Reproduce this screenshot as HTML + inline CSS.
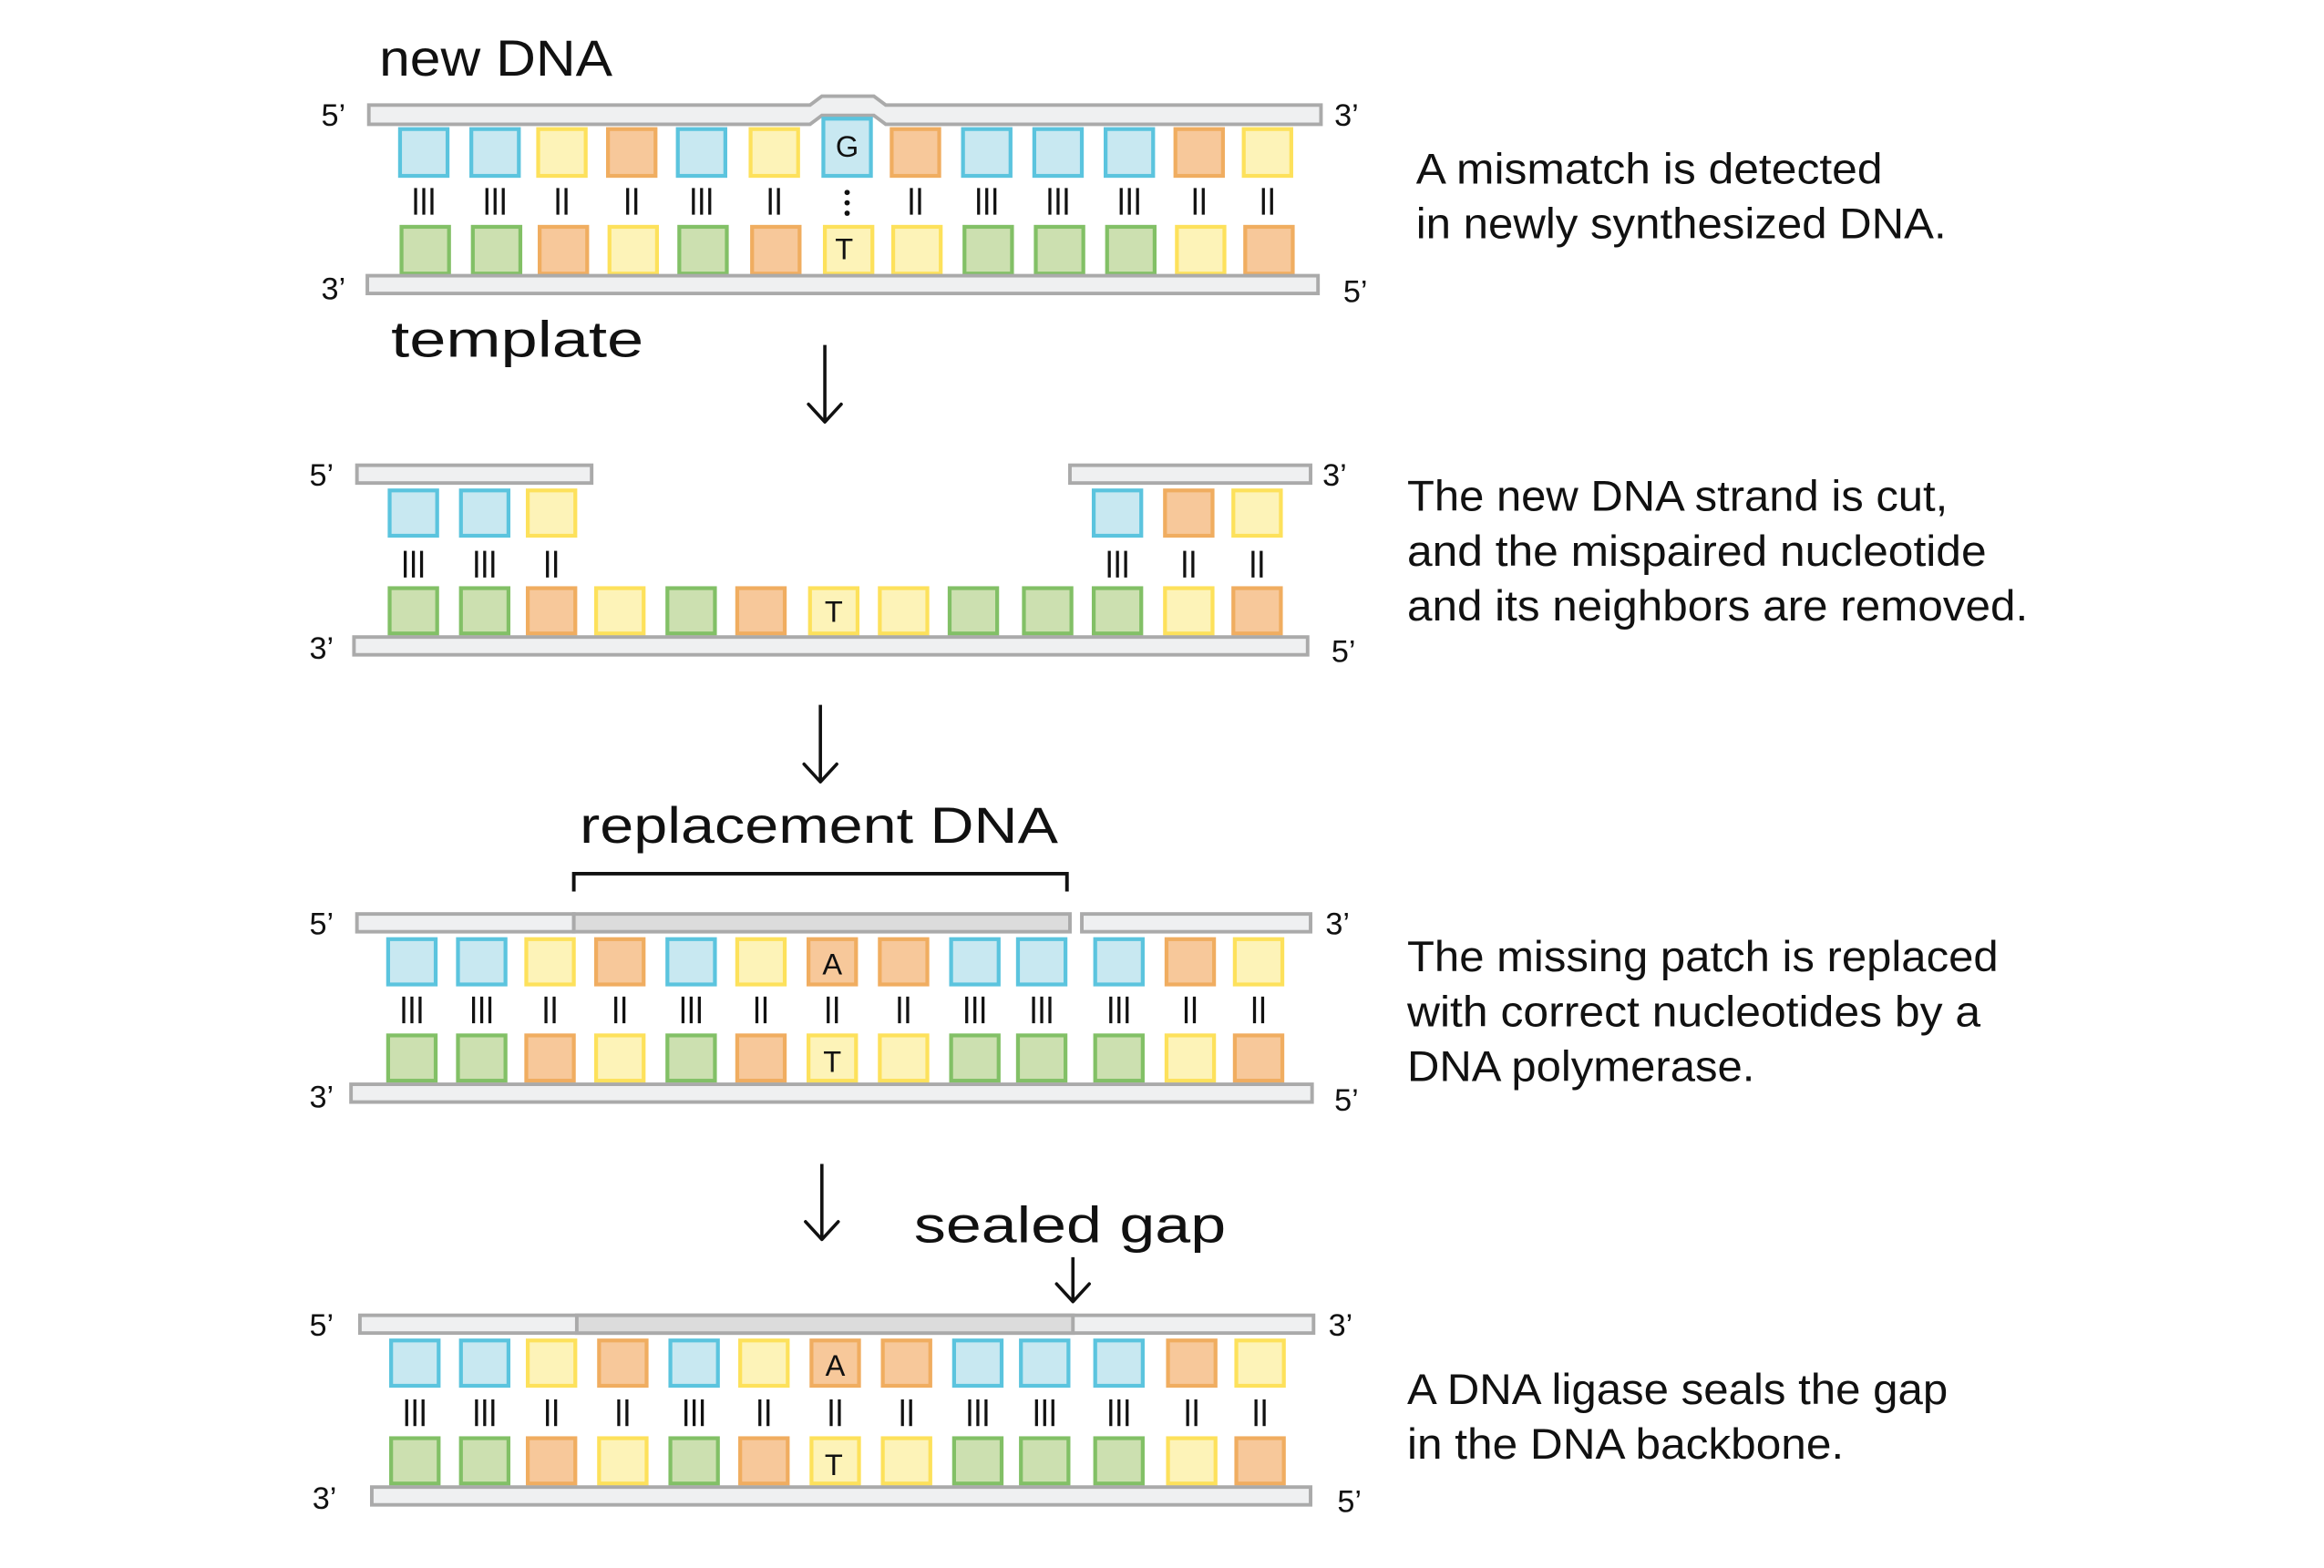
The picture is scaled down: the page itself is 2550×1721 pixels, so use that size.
<!DOCTYPE html>
<html><head><meta charset="utf-8"><style>
html,body{margin:0;padding:0;background:#fff;}
svg{display:block;}
.t{font-family:"Liberation Sans",sans-serif;font-size:29px;fill:#111;}
.p{font-family:"Liberation Sans",sans-serif;font-size:21px;fill:#111;}
.h{font-family:"Liberation Sans Narrow","Liberation Sans",sans-serif;font-size:34px;fill:#111;}
.b{font-family:"Liberation Sans",sans-serif;font-size:20px;fill:#111;}
</style></head><body>
<svg id="s" width="2550" height="1721" viewBox="0 0 1550 1046" xmlns="http://www.w3.org/2000/svg">
<g transform="matrix(0.9907 0 0 0.988 0.3 0.9)">
<g id="g"></g>
<text class="h" x="255" y="50" textLength="157" lengthAdjust="spacingAndGlyphs">new DNA</text>
<text class="h" x="263" y="240" textLength="170" lengthAdjust="spacingAndGlyphs">template</text>
<text class="h" x="390" y="568" textLength="322" lengthAdjust="spacingAndGlyphs">replacement DNA</text>
<text class="h" x="615" y="838" textLength="210" lengthAdjust="spacingAndGlyphs">sealed gap</text>
<text class="p" x="216" y="84">5’</text><text class="p" x="898" y="84">3’</text>
<text class="p" x="216" y="201">3’</text><text class="p" x="904" y="203">5’</text>
<text class="p" x="208" y="327">5’</text><text class="p" x="890" y="327">3’</text>
<text class="p" x="208" y="444">3’</text><text class="p" x="896" y="446">5’</text>
<text class="p" x="208" y="630">5’</text><text class="p" x="892" y="630">3’</text>
<text class="p" x="208" y="747">3’</text><text class="p" x="898" y="749">5’</text>
<text class="p" x="208" y="901">5’</text><text class="p" x="894" y="901">3’</text>
<text class="p" x="210" y="1018">3’</text><text class="p" x="900" y="1020">5’</text>
<text class="t" x="953" y="123" textLength="314" lengthAdjust="spacingAndGlyphs">A mismatch is detected</text>
<text class="t" x="953" y="160" textLength="357" lengthAdjust="spacingAndGlyphs">in newly synthesized DNA.</text>
<text class="t" x="947" y="344" textLength="364" lengthAdjust="spacingAndGlyphs">The new DNA strand is cut,</text>
<text class="t" x="947" y="381" textLength="390" lengthAdjust="spacingAndGlyphs">and the mispaired nucleotide</text>
<text class="t" x="947" y="418" textLength="418" lengthAdjust="spacingAndGlyphs">and its neighbors are removed.</text>
<text class="t" x="947" y="655" textLength="398" lengthAdjust="spacingAndGlyphs">The missing patch is replaced</text>
<text class="t" x="947" y="692" textLength="386" lengthAdjust="spacingAndGlyphs">with correct nucleotides by a</text>
<text class="t" x="947" y="729" textLength="234" lengthAdjust="spacingAndGlyphs">DNA polymerase.</text>
<text class="t" x="947" y="947" textLength="364" lengthAdjust="spacingAndGlyphs">A DNA ligase seals the gap</text>
<text class="t" x="947" y="984" textLength="294" lengthAdjust="spacingAndGlyphs">in the DNA backbone.</text>
<text class="b" x="570" y="105" text-anchor="middle">G</text>
<text class="b" x="568" y="174" text-anchor="middle">T</text>
<text class="b" x="561" y="419" text-anchor="middle">T</text>
<text class="b" x="560" y="657" text-anchor="middle">A</text>
<text class="b" x="560" y="723" text-anchor="middle">T</text>
<text class="b" x="562" y="928" text-anchor="middle">A</text>
<text class="b" x="561" y="995" text-anchor="middle">T</text>
</g>
</svg>
<script>
var NS="http://www.w3.org/2000/svg",g=document.getElementById("g");
function el(t,a){var e=document.createElementNS(NS,t);for(var k in a)e.setAttribute(k,a[k]);g.appendChild(e);return e;}
var C={B:["#c8e8f1","#5bc4de"],Y:["#fdf3b8","#fde15b"],O:["#f7c89a","#f0ad60"],G:["#cce0b0","#82c066"]};
function base(cx,y,c,h){h=h||33;el("rect",{x:cx-16,y:y+1.2,width:32,height:h-2.4,fill:C[c][0],stroke:C[c][1],"stroke-width":2.6});}
function strand(x1,x2,y,fill){el("rect",{x:x1,y:y+1.2,width:x2-x1,height:12,fill:fill||"#eff0f1",stroke:"#aaa","stroke-width":2.4});}
function bond(cx,y,n){var sp=5.5,s=cx-(n-1)*sp/2;for(var i=0;i<n;i++)el("line",{x1:s+i*sp,y1:y,x2:s+i*sp,y2:y+18,stroke:"#111","stroke-width":2});}
function arrow(x,y1,y2){el("line",{x1:x,y1:y1,x2:x,y2:y2,stroke:"#111","stroke-width":2.2});el("polyline",{points:(x-11)+","+(y2-12)+" "+x+","+y2+" "+(x+11)+","+(y2-12),fill:"none",stroke:"#111","stroke-width":2.2,"stroke-linecap":"round","stroke-linejoin":"round"});}
var top1="BBYOBYBOBBBOY",bot="GGOYGOYYGGGYO",bnd1=[3,3,2,2,3,2,0,2,3,3,3,2,2],bnd3=[3,3,2,2,3,2,2,2,3,3,3,2,2],top3="BBYOBYOOBBBOY";
var c1=[285,333,378,425,472,521,570,616,664,712,760,807,853];
el("path",{d:"M248,70 L545,70 L553,64 L588,64 L596,70 L889,70 L889,83 L596,83 L588,77 L553,77 L545,83 L248,83 Z",fill:"#eff0f1",stroke:"#aaa","stroke-width":2.4});
c1.forEach(function(x,i){base(x,i==6?78:85,top1[i],i==6?41:34);base(x+1,151,bot[i],34);if(bnd1[i])bond(x,126,bnd1[i]);});
el("circle",{cx:570,cy:129,r:1.8,fill:"#111"});el("circle",{cx:570,cy:136,r:1.8,fill:"#111"});el("circle",{cx:570,cy:143,r:1.8,fill:"#111"});
strand(247,887,184);
arrow(555,232,284);
var c2=[278,326,371,417,465,512,561,608,655,705,752,800,846];
strand(240,398,312);strand(720,882,312);
[0,1,2,10,11,12].forEach(function(i){base(c2[i],329,top1[i]);bond(c2[i],371,bnd1[i]);});
c2.forEach(function(x,i){base(x,395,bot[i]);});
strand(238,880,428);
arrow(552,475,527);
el("polyline",{points:"386,601 386,589 718,589 718,601",fill:"none",stroke:"#111","stroke-width":2.4});
var c3=[277,324,370,417,465,512,560,608,656,701,753,801,847];
strand(240,386,615);strand(386,720,615,"#dcdcdc");strand(728,882,615);
c3.forEach(function(x,i){base(x,632,top3[i]);base(x,697,bot[i]);bond(x,672,bnd3[i]);});
strand(236,883,730);
arrow(553,785,836);
arrow(722,848,878);
var c4=[279,326,371,419,467,514,562,610,658,703,753,802,848];
strand(242,884,886);el("rect",{x:388,y:887.2,width:334,height:12,fill:"#dcdcdc",stroke:"#aaa","stroke-width":2.4});
c4.forEach(function(x,i){base(x,903,top3[i]);base(x,969,bot[i]);bond(x,944,bnd3[i]);});
strand(250,882,1002);
</script>
</body></html>
